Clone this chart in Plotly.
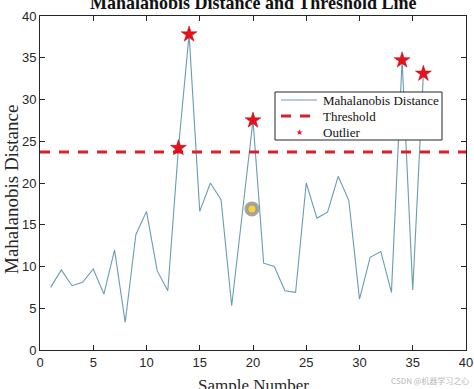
import plotly.graph_objects as go

# ---- data ----
sample_numbers = list(range(1, 37))
mahalanobis = [7.5, 9.6, 7.7, 8.1, 9.7, 6.7, 12.0, 3.3, 13.8, 16.6,
               9.5, 7.1, 24.2, 37.8, 16.6, 20.0, 18.0, 5.3, 16.4, 27.5,
               10.4, 10.0, 7.1, 6.9, 20.0, 15.8, 16.5, 20.8, 17.9, 6.1,
               11.1, 11.8, 6.9, 34.7, 7.2, 33.1]
threshold = 23.7
outlier_x = [13, 14, 20, 34, 36]
outlier_y = [24.2, 37.8, 27.5, 34.7, 33.1]
highlight_x = [19.9]
highlight_y = [16.9]
x_range = [0, 40]
y_range = [0, 40]
tick_vals = [0, 5, 10, 15, 20, 25, 30, 35, 40]
legend_labels = ["Mahalanobis Distance", "Threshold", "Outlier"]

SERIF = "Liberation Serif, Times New Roman, serif"
SANS = "Liberation Sans, Arial, Helvetica, sans-serif"
AX = "#262626"
LINE_C = "#6a9cb4"
RED = "#d9202a"
STAR_C = "#e3121c"

W, H = 474, 389
L, R, T, B = 40, 8, 16, 39
PW, PH = W - L - R, H - T - B


def px(x):
    return (x - L) / PW


def py(y):
    return (H - B - y) / PH


fig = go.Figure()
fig.add_trace(go.Scatter(
    x=sample_numbers, y=mahalanobis, mode="lines",
    name=legend_labels[0],
    line=dict(color=LINE_C, width=1.1),
))
fig.add_trace(go.Scatter(
    x=x_range, y=[threshold, threshold], mode="lines",
    name=legend_labels[1],
    line=dict(color=RED, width=3, dash="10px,9px"),
))
fig.add_trace(go.Scatter(
    x=outlier_x, y=outlier_y, mode="markers",
    name=legend_labels[2],
    marker=dict(symbol="star", size=12, color=STAR_C,
                line=dict(color="#c00010", width=0.5)),
))
fig.add_trace(go.Scatter(
    x=highlight_x, y=highlight_y, mode="markers",
    hoverinfo="skip",
    marker=dict(symbol="circle", size=11, color="#f8d43c",
                line=dict(color="rgba(150,150,150,0.85)", width=4)),
))

axis_common = dict(
    showline=True, linecolor=AX, linewidth=1, mirror="ticks",
    ticks="inside", ticklen=5, tickcolor=AX, tickwidth=1,
    showgrid=False, zeroline=False, automargin=False,
    tickfont=dict(family=SANS, size=13, color=AX),
)
fig.update_xaxes(range=x_range, tickvals=tick_vals, **axis_common)
fig.update_yaxes(range=y_range, tickvals=tick_vals, **axis_common)

# manual legend (box, samples, labels)
box = dict(x0=275, x1=442, y0=92, y1=140)
rows = [100, 116, 132]
shapes = [
    dict(type="rect", xref="paper", yref="paper",
         x0=px(box["x0"]), x1=px(box["x1"]), y0=py(box["y1"]), y1=py(box["y0"]),
         line=dict(color=AX, width=1), fillcolor="white", layer="above"),
    dict(type="line", xref="paper", yref="paper",
         x0=px(281), x1=px(317), y0=py(rows[0]), y1=py(rows[0]),
         line=dict(color=LINE_C, width=1.1)),
    dict(type="line", xref="paper", yref="paper",
         x0=px(281), x1=px(317), y0=py(rows[1]), y1=py(rows[1]),
         line=dict(color=RED, width=3, dash="10px,9px")),
]
annotations = []
for lab, r in zip(legend_labels, rows):
    annotations.append(dict(
        text=lab, xref="paper", yref="paper", x=px(321), y=py(r),
        xanchor="left", yanchor="middle", showarrow=False,
        font=dict(family=SERIF, size=13, color="#111111")))
annotations.append(dict(
    text="★", xref="paper", yref="paper", x=px(299), y=py(rows[2]),
    xanchor="center", yanchor="middle", showarrow=False,
    font=dict(family="DejaVu Sans", size=8, color=STAR_C)))

# titles
annotations += [
    dict(text="<b>Mahalanobis Distance and Threshold Line</b>",
         xref="paper", yref="paper", x=0.5, y=py(3),
         xanchor="center", yanchor="middle", showarrow=False,
         font=dict(family=SERIF, size=18, color="#111111")),
    dict(text="Sample Number",
         xref="paper", yref="paper", x=px(253), y=py(385),
         xanchor="center", yanchor="middle", showarrow=False,
         font=dict(family=SERIF, size=17, color=AX)),
    dict(text="Mahalanobis Distance", textangle=-90,
         xref="paper", yref="paper", x=px(11), y=py(190),
         xanchor="center", yanchor="middle", showarrow=False,
         font=dict(family=SERIF, size=19, color=AX)),
    dict(text="CSDN @机器学习之心",
         xref="paper", yref="paper", x=px(430), y=py(381),
         xanchor="center", yanchor="middle", showarrow=False,
         font=dict(family="Noto Sans CJK SC", size=8, color="#b8b8b8")),
]

fig.update_layout(
    width=W, height=H,
    margin=dict(l=L, r=R, t=T, b=B),
    plot_bgcolor="white", paper_bgcolor="white",
    showlegend=False,
    shapes=shapes,
    annotations=annotations,
)

fig.write_html("out.html",
               config={"displayModeBar": False},
               post_script="document.body.style.margin='0';"
                           "document.body.style.overflow='hidden';")
